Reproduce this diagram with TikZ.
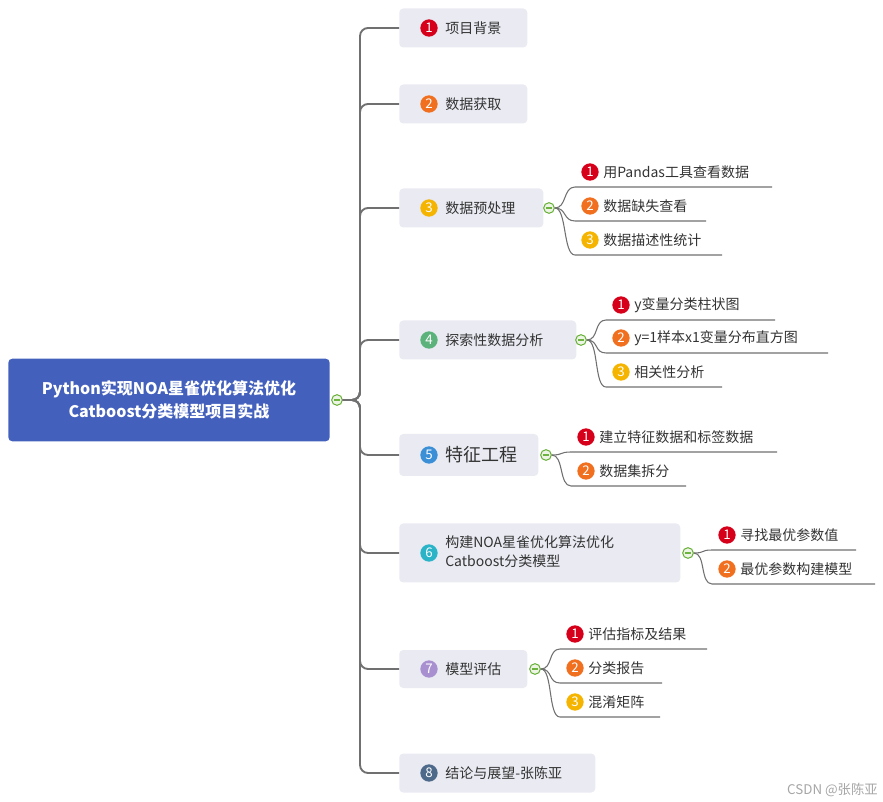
\documentclass[tikz,border=0pt]{standalone}
\usepackage{fontspec}
\setmainfont{Noto Sans CJK SC}
\usetikzlibrary{calc}
\definecolor{brfill}{HTML}{E9EAF2}
\definecolor{rootfill}{HTML}{4360BD}
\definecolor{txt}{HTML}{333333}
\definecolor{linec}{HTML}{707070}
\definecolor{colgreen}{HTML}{6DB33F}
\definecolor{colfill}{HTML}{EEF5E6}
\definecolor{cA}{HTML}{D7001B}
\definecolor{cB}{HTML}{F07020}
\definecolor{cC}{HTML}{F5B400}
\definecolor{cD}{HTML}{5BB27A}
\definecolor{cE}{HTML}{3A8FD6}
\definecolor{cF}{HTML}{2BB3C8}
\definecolor{cG}{HTML}{A890D0}
\definecolor{cH}{HTML}{4E6A8A}
\newcommand\branch[7]{%
  \node[br,minimum width=#3*0.75pt,minimum height=#4*0.75pt] (#1) at (399,#2) {};
  \node[badge=#5] (#1n) at (429,#2) {#6};
  \node[leaf] (#1t) at (445,#2) {#7};
  \draw[trunk] (rc.east) -| (360,#2) -- (#1.west);}
\newcommand\lf[9]{%
  \node[badge=#7] (#1n) at (#4,#5-15) {#8};
  \node[leaf] (#1t) at (#4+13,#5-15) {#9};
  \coordinate (#1s) at (#4-15,#5);
  \coordinate (#1e) at (#6,#5);
  \draw[conn] (#2.east) .. controls ($(#2.east)+(12,0)$) and ($(#1s)+(-12,0)$) .. (#1s) -- (#1e);}
\begin{document}
\begin{tikzpicture}[x=0.75pt,y=-0.75pt,
  br/.style={fill=brfill,rounded corners=3pt,anchor=west,inner sep=0pt},
  badge/.style={circle,fill=#1,inner sep=0pt,minimum size=13pt,text=white,font=\fontsize{10}{10}\selectfont},
  leaf/.style={anchor=west,inner sep=0pt,font=\fontsize{10.5}{14}\selectfont,text=txt},
  col/.style={circle,draw=colgreen,fill=colfill,line width=0.8pt,minimum size=8pt,inner sep=0pt,
    path picture={\draw[colgreen,line width=0.8pt] ([xshift=-2.3pt]path picture bounding box.center) -- ([xshift=2.3pt]path picture bounding box.center);}},
  conn/.style={draw=linec,line width=0.8pt},
  trunk/.style={draw=linec,line width=1.4pt,rounded corners=6pt}]
\useasboundingbox (0,0) rectangle (883,802);
\node[fill=rootfill,rounded corners=3pt,minimum width=241pt,minimum height=62pt,text=white,font=\fontsize{12}{17}\selectfont\bfseries,align=center] (root) at (169,400) {Python实现NOA星雀优化算法优化\\Catboost分类模型项目实战};
\node[col] (rc) at (337,400) {};
\branch{b1}{28}{128}{39}{cA}{1}{项目背景}
\branch{b2}{104}{128}{39}{cB}{2}{数据获取}
\branch{b3}{208}{144}{39}{cC}{3}{数据预处理}
\branch{b4}{340}{177}{39}{cD}{4}{探索性数据分析}
\branch{b6}{553}{281}{59}{cF}{6}{\begin{tabular}{@{}l@{}}构建NOA星雀优化算法优化\\Catboost分类模型\end{tabular}}
\branch{b7}{669}{128}{38}{cG}{7}{模型评估}
\branch{b8}{773}{196}{39}{cH}{8}{结论与展望-张陈亚}
\node[br,minimum width=139*0.75pt,minimum height=42*0.75pt] (b5) at (399,455) {};
\node[badge=cE] (b5n) at (429,455) {5};
\node[leaf,font=\fontsize{13.5}{16}\selectfont] (b5t) at (445,455) {特征工程};
\draw[trunk] (rc.east) -| (360,455) -- (b5.west);
\node[col] (c3) at (549,208) {};
\node[col] (c4) at (581,340) {};
\node[col] (c5) at (546,455) {};
\node[col] (c6) at (688,553) {};
\node[col] (c7) at (535,669) {};
\lf{l31}{c3}{}{590}{187}{772}{cA}{1}{用Pandas工具查看数据}
\lf{l32}{c3}{}{590}{221}{706}{cB}{2}{数据缺失查看}
\lf{l33}{c3}{}{590}{255}{722}{cC}{3}{数据描述性统计}
\lf{l41}{c4}{}{621}{320}{775}{cA}{1}{y变量分类柱状图}
\lf{l42}{c4}{}{621}{353}{828}{cB}{2}{y=1样本x1变量分布直方图}
\lf{l43}{c4}{}{621}{387}{722}{cC}{3}{相关性分析}
\lf{l51}{c5}{}{586}{452}{777}{cA}{1}{建立特征数据和标签数据}
\lf{l52}{c5}{}{586}{486}{686}{cB}{2}{数据集拆分}
\lf{l61}{c6}{}{727}{550}{856}{cA}{1}{寻找最优参数值}
\lf{l62}{c6}{}{727}{584}{875}{cB}{2}{最优参数构建模型}
\lf{l71}{c7}{}{575}{649}{707}{cA}{1}{评估指标及结果}
\lf{l72}{c7}{}{575}{683}{662}{cB}{2}{分类报告}
\lf{l73}{c7}{}{575}{717}{660}{cC}{3}{混淆矩阵}
\node[anchor=south east,inner sep=0pt,text=gray!70,font=\fontsize{10}{12}\selectfont] (wm) at (878,797) {CSDN @张陈亚};
\end{tikzpicture}
\end{document}
